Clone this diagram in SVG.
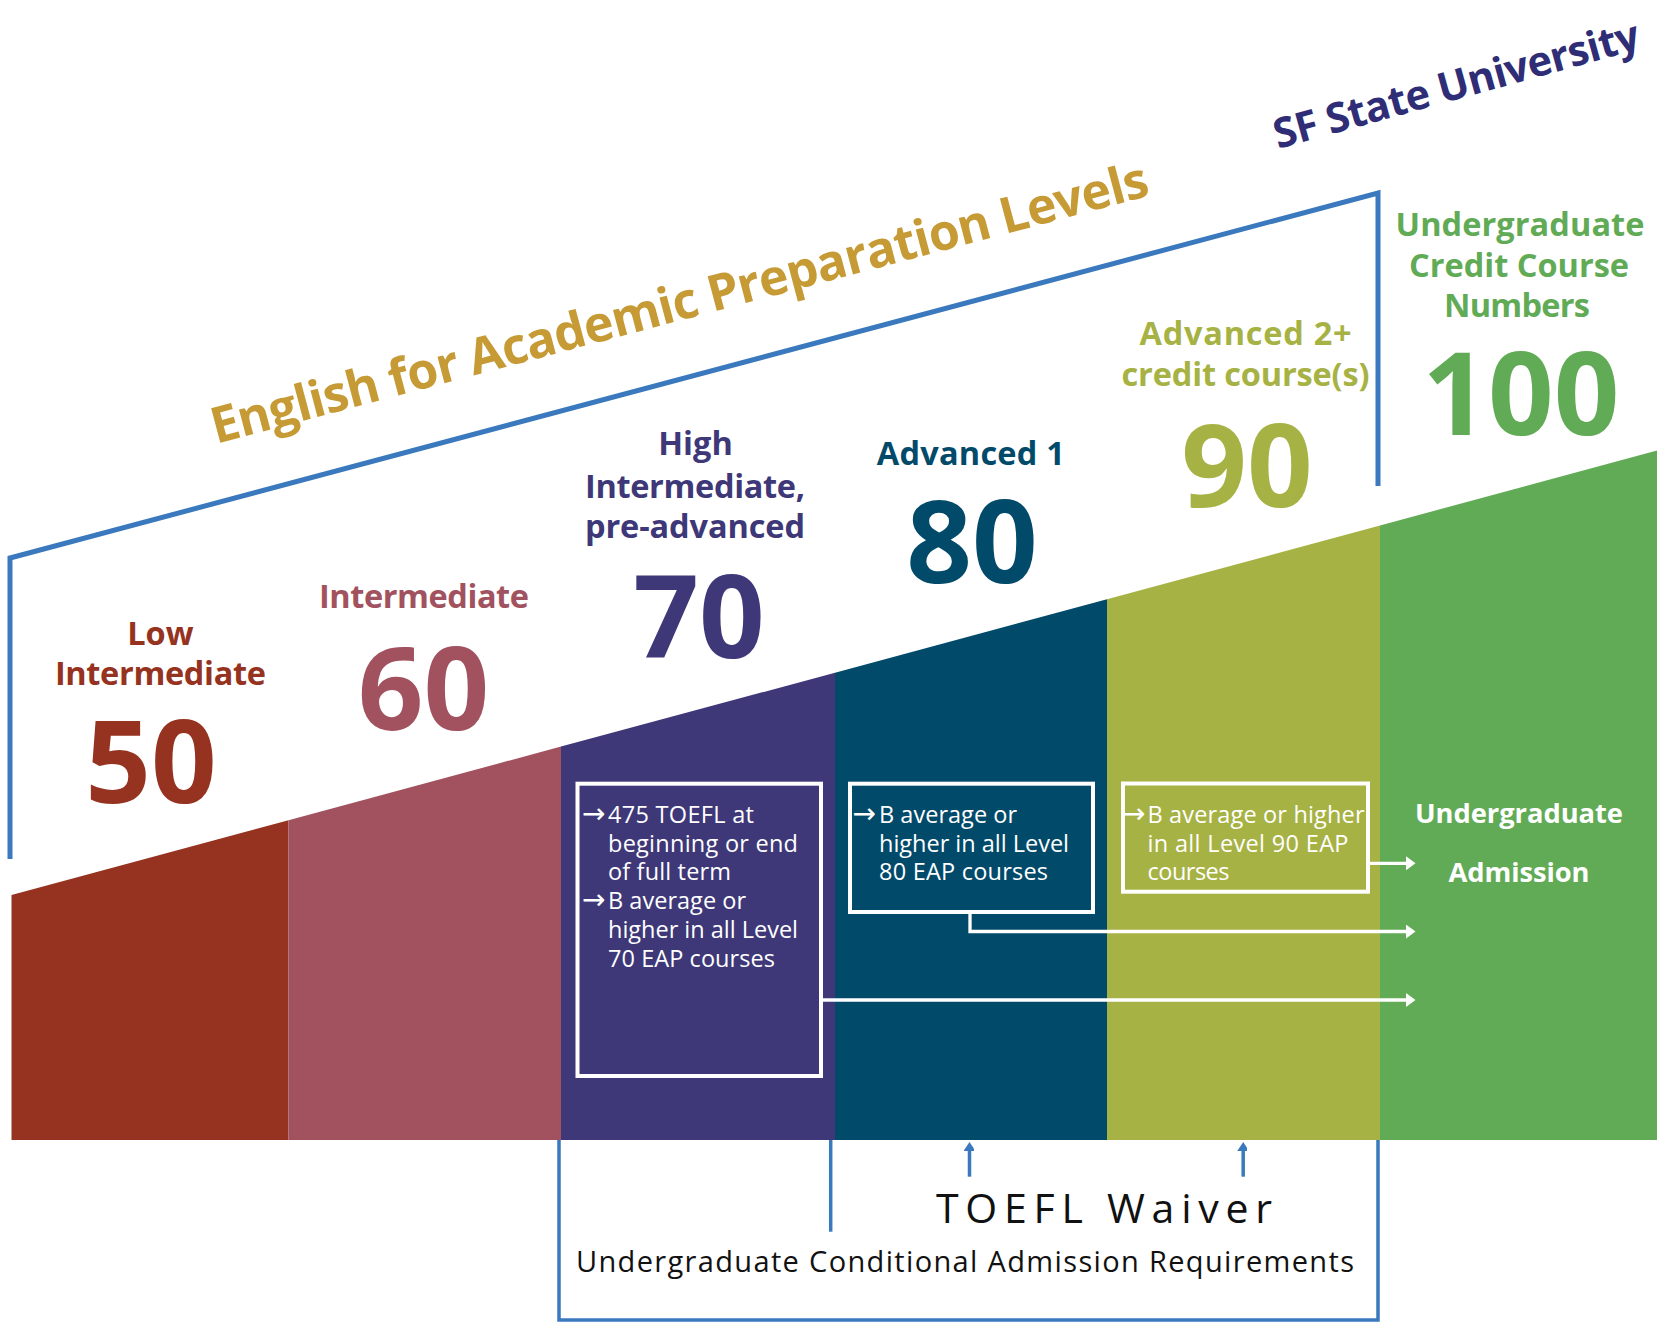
<svg xmlns="http://www.w3.org/2000/svg" width="1658" height="1334" viewBox="0 0 1658 1334">
<defs>
<style>
.b{font-family:"Open Sans","Noto Sans","DejaVu Sans",sans-serif;font-weight:700}
.lbl{font-size:32.5px;text-anchor:middle}
.num{font-size:115px;text-anchor:middle}
.box{fill:none;stroke:#ffffff;stroke-width:4}
.bt{font-family:"Open Sans","Noto Sans",sans-serif;font-size:23.5px;fill:#ffffff}
.ar{font-family:"DejaVu Sans",sans-serif;font-size:28px;fill:#ffffff}
.wl{fill:none;stroke:#ffffff;stroke-width:3.3}
.bl{fill:none;stroke:#3a79bd;stroke-width:3.5}
.red{fill:#953220}.pink{fill:#a1525e}.purp{fill:#3e3878}.teal{fill:#024a6a}.olive{fill:#a7b244}.green{fill:#62ab56}
</style>
<marker id="wa" markerUnits="userSpaceOnUse" markerWidth="10" markerHeight="14" refX="0" refY="7" orient="auto">
<path d="M0,0 L9.5,7 L0,14 Z" fill="#ffffff"/>
</marker>
<marker id="ba" markerUnits="userSpaceOnUse" markerWidth="13" markerHeight="10" refX="0" refY="6" orient="auto">
<path d="M0,0 L9,6 L0,12 Z" fill="#3a79bd"/>
</marker>
</defs>
<rect width="1658" height="1334" fill="#ffffff"/>

<g id="bands">
<polygon class="red" points="11.5,895 288.5,820.2 288.5,1140 11.5,1140"/>
<polygon class="pink" points="288.5,820.2 561,746.6 561,1140 288.5,1140"/>
<polygon class="purp" points="561,746.6 835,672.7 835,1140 561,1140"/>
<polygon class="teal" points="835,672.7 1107,599.2 1107,1140 835,1140"/>
<polygon class="olive" points="1107,599.2 1380,525.5 1380,1140 1107,1140"/>
<polygon class="green" points="1380,525.5 1657,450.4 1657,1140 1380,1140"/>
</g>

<g id="outline">
<polyline points="10,859 10,558 1378,193 1378,486" fill="none" stroke="#3a79bd" stroke-width="5"/>
</g>

<g id="titles">
<text class="b" font-size="50" fill="#c69a34" x="216" y="444" textLength="968" transform="rotate(-14.9 216 444)">English for Academic Preparation Levels</text>
<text class="b" font-size="41.5" fill="#2f2d76" x="1278" y="149" textLength="378" transform="rotate(-15.5 1278 149)">SF State University</text>
</g>

<g id="level50">
<text class="b lbl" fill="#953220" x="160.4" y="645">Low</text>
<text class="b lbl" fill="#953220" x="160.4" y="685" textLength="211">Intermediate</text>
<text class="b num" fill="#953220" x="151" y="803" font-size="114">50</text>
</g>
<g id="level60">
<text class="b lbl" fill="#a1525e" x="424" y="608.3" textLength="210">Intermediate</text>
<text class="b num" fill="#a1525e" x="423.5" y="730" font-size="116">60</text>
</g>
<g id="level70">
<text class="b lbl" fill="#3e3878" x="695.5" y="455">High</text>
<text class="b lbl" fill="#3e3878" x="695" y="498.3" textLength="220">Intermediate,</text>
<text class="b lbl" fill="#3e3878" x="695" y="538.3" textLength="220">pre-advanced</text>
<text class="b num" fill="#3e3878" x="699" y="658" font-size="116">70</text>
</g>
<g id="level80">
<text class="b lbl" fill="#024a6a" x="970.8" y="465" textLength="188">Advanced 1</text>
<text class="b num" fill="#024a6a" x="972" y="583" font-size="116">80</text>
</g>
<g id="level90">
<text class="b lbl" fill="#a7b244" x="1245.6" y="344.6" textLength="212">Advanced 2+</text>
<text class="b lbl" fill="#a7b244" x="1245.5" y="385.7" textLength="248">credit course(s)</text>
<text class="b num" fill="#a7b244" x="1247" y="507" font-size="112">90</text>
</g>
<g id="level100">
<text class="b lbl" fill="#62ab56" x="1520" y="235.7" textLength="249">Undergraduate</text>
<text class="b lbl" fill="#62ab56" x="1519" y="276.8" textLength="220">Credit Course</text>
<text class="b lbl" fill="#62ab56" x="1517" y="317" textLength="146">Numbers</text>
<text class="b num" fill="#62ab56" x="1521" y="435" font-size="110">100</text>
</g>

<g id="box70">
<rect class="box" x="577.5" y="783.7" width="243.5" height="292.3"/>
<text class="ar" x="582" y="823.3">→</text>
<text class="bt" x="608" y="823.3" textLength="146">475 TOEFL at</text>
<text class="bt" x="608" y="851.7" textLength="190">beginning or end</text>
<text class="bt" x="608" y="880" textLength="123">of full term</text>
<text class="ar" x="582" y="909">→</text>
<text class="bt" x="608" y="909" textLength="138">B average or</text>
<text class="bt" x="608" y="938.3" textLength="190">higher in all Level</text>
<text class="bt" x="608" y="966.7" textLength="167">70 EAP courses</text>
</g>
<g id="box80">
<rect class="box" x="850" y="783.7" width="243" height="128.3"/>
<text class="ar" x="852.5" y="823.3">→</text>
<text class="bt" x="879" y="823.3" textLength="138">B average or</text>
<text class="bt" x="879" y="851.7" textLength="190">higher in all Level</text>
<text class="bt" x="879" y="880" textLength="169">80 EAP courses</text>
</g>
<g id="box90">
<rect class="box" x="1123" y="783.5" width="245" height="108.2"/>
<text class="ar" x="1122" y="823.3">→</text>
<text class="bt" x="1147.5" y="823.3" textLength="217">B average or higher</text>
<text class="bt" x="1147.5" y="851.7" textLength="201">in all Level 90 EAP</text>
<text class="bt" x="1147.5" y="880" textLength="82">courses</text>
</g>
<g id="admission">
<text class="b" font-size="27.3" fill="#ffffff" text-anchor="middle" x="1519" y="823.3" textLength="208">Undergraduate</text>
<text class="b" font-size="27.3" fill="#ffffff" text-anchor="middle" x="1519" y="882.3" textLength="141">Admission</text>
</g>

<g id="connectors">
<path class="wl" d="M1370,863.3 H1406" marker-end="url(#wa)"/>
<path class="wl" d="M970,914 V931.5 H1406" marker-end="url(#wa)"/>
<path class="wl" d="M823,1000 H1406" marker-end="url(#wa)"/>
<path class="bl" d="M559,1140 V1320 H1378 V1140"/>
<path class="bl" d="M830.7,1140 V1231.7"/>
<path class="bl" d="M969.5,1176.7 V1151" marker-end="url(#ba)"/>
<path class="bl" d="M1243.2,1176.7 V1151" marker-end="url(#ba)"/>
</g>

<g id="bottom">
<text font-family="'Open Sans','Noto Sans',sans-serif" font-size="41" fill="#111111" x="936" y="1223.3" textLength="336">TOEFL Waiver</text>
<text font-family="'Open Sans','Noto Sans',sans-serif" font-size="29" fill="#111111" x="576" y="1271.7" textLength="778">Undergraduate Conditional Admission Requirements</text>
</g>
</svg>
